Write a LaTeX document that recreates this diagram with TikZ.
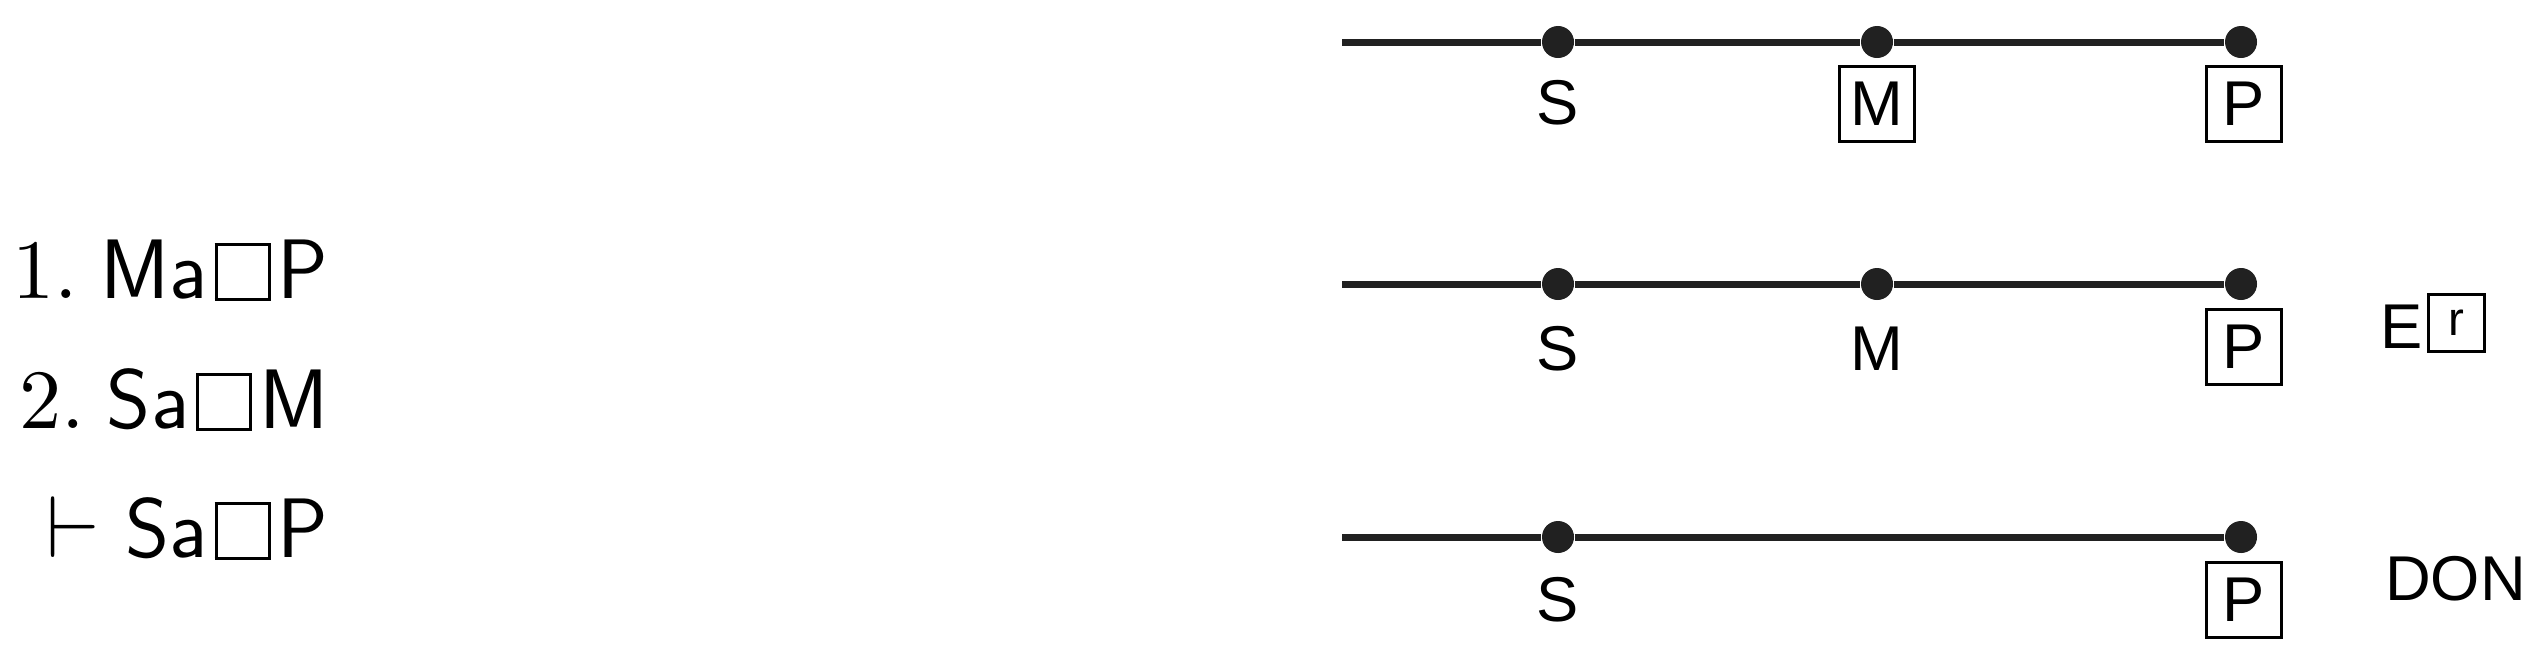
\documentclass[tikz,border=0pt]{standalone}
\usepackage{fontspec}
\newfontfamily\labfont{Liberation Sans}
\newfontfamily\digfont{lmroman10-regular.otf}
\definecolor{linec}{HTML}{212121}
\newcommand\sqg{\kern0.07cm{\setlength\fboxsep{0pt}\setlength\fboxrule{0.85pt}\fbox{\rule{0pt}{0.52cm}\rule{0.50cm}{0pt}}}\kern0.07cm}
\begin{document}
\begin{tikzpicture}[x=0.01cm,y=-0.01cm,
  dot/.style={circle,fill=linec,inner sep=0pt,minimum size=0.32cm},
  seg/.style={line width=0.07cm,draw=linec},
  lab/.style={font=\labfont\fontsize{18}{20}\selectfont,inner sep=0pt},
  boxlab/.style={lab,draw,line width=0.95pt,minimum size=0.745cm},
  smallbox/.style={draw,line width=0.95pt,inner sep=0pt,minimum width=0.555cm,minimum height=0.565cm,font=\labfont\fontsize{13.5}{15}\selectfont},
  prem/.style={font=\fontsize{24}{28}\selectfont,inner sep=0pt,anchor=base east}]
\useasboundingbox (0,0) rectangle (2542,666);
% premises
\node[prem] (p1) at (329,298) {\digfont 1.\kern0.22cm\sffamily Ma\sqg P};
\node[prem] (p2) at (329,428) {\digfont 2.\kern0.22cm\sffamily Sa\sqg M};
\node[prem] (cc) at (329,557) {$\vdash$ \sffamily Sa\sqg P};
% row 1
\coordinate (a0) at (1342,42);
\node[dot] (aS) at (1558,42) {};
\node[dot] (aM) at (1877,42) {};
\node[dot] (aP) at (2241,42) {};
\draw[seg] (a0) -- (aS) -- (aM) -- (aP);
\node[lab] (aSl) at (1558,103) {S};
\node[boxlab] (aMl) at (1877,104) {M};
\node[boxlab] (aPl) at (2244,104) {P};
% row 2
\coordinate (b0) at (1342,284);
\node[dot] (bS) at (1558,284) {};
\node[dot] (bM) at (1877,284) {};
\node[dot] (bP) at (2241,284) {};
\draw[seg] (b0) -- (bS) -- (bM) -- (bP);
\node[lab] (bSl) at (1558,349) {S};
\node[lab] (bMl) at (1877,349) {M};
\node[boxlab] (bPl) at (2244,347) {P};
\node[lab,anchor=base east] (E) at (2423,348) {E};
\node[smallbox] (r) at (2456.5,323) {r};
% row 3
\coordinate (c0) at (1342,537);
\node[dot] (cS) at (1558,537) {};
\node[dot] (cP) at (2241,537) {};
\draw[seg] (c0) -- (cS) -- (cP);
\node[lab] (cSl) at (1558,600) {S};
\node[boxlab] (cPl) at (2244,600) {P};
\node[lab] (don) at (2455.5,578.5) {DON};
\end{tikzpicture}
\end{document}
